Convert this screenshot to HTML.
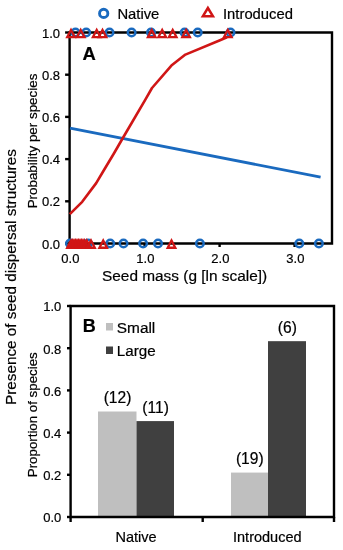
<!DOCTYPE html>
<html><head><meta charset="utf-8"><style>
html,body{margin:0;padding:0;background:#fff;}
svg{display:block;will-change:transform;}
text{font-family:"Liberation Sans",sans-serif;fill:#000;stroke:#000;stroke-width:0.2px;}
</style></head><body>
<svg width="343" height="550" viewBox="0 0 343 550">
<rect width="343" height="550" fill="#fff"/>
<circle cx="103.70" cy="13.40" r="4.15" fill="none" stroke="#1a6abf" stroke-width="2.9"/>
<text x="117.40" y="18.60" font-size="14.8" text-anchor="start" font-weight="normal" >Native</text>
<path fill-rule="evenodd" fill="#d01616" d="M207.90 5.60L215.15 17.40L200.65 17.40ZM207.90 10.38L210.68 14.90L205.12 14.90Z"/>
<text x="223.00" y="18.60" font-size="14.8" text-anchor="start" font-weight="normal" >Introduced</text>
<line x1="65.1" y1="243.50" x2="69.60" y2="243.50" stroke="#000" stroke-width="2.4"/>
<text x="60.00" y="248.50" font-size="13" text-anchor="end" font-weight="normal" >0.0</text>
<line x1="65.1" y1="201.30" x2="69.60" y2="201.30" stroke="#000" stroke-width="2.4"/>
<text x="60.00" y="206.30" font-size="13" text-anchor="end" font-weight="normal" >0.2</text>
<line x1="65.1" y1="159.10" x2="69.60" y2="159.10" stroke="#000" stroke-width="2.4"/>
<text x="60.00" y="164.10" font-size="13" text-anchor="end" font-weight="normal" >0.4</text>
<line x1="65.1" y1="116.90" x2="69.60" y2="116.90" stroke="#000" stroke-width="2.4"/>
<text x="60.00" y="121.90" font-size="13" text-anchor="end" font-weight="normal" >0.6</text>
<line x1="65.1" y1="74.70" x2="69.60" y2="74.70" stroke="#000" stroke-width="2.4"/>
<text x="60.00" y="79.70" font-size="13" text-anchor="end" font-weight="normal" >0.8</text>
<line x1="65.1" y1="32.50" x2="69.60" y2="32.50" stroke="#000" stroke-width="2.4"/>
<text x="60.00" y="37.50" font-size="13" text-anchor="end" font-weight="normal" >1.0</text>
<line x1="144.60" y1="243.50" x2="144.60" y2="247" stroke="#000" stroke-width="2.4"/>
<line x1="219.60" y1="243.50" x2="219.60" y2="247" stroke="#000" stroke-width="2.4"/>
<line x1="294.60" y1="243.50" x2="294.60" y2="247" stroke="#000" stroke-width="2.4"/>
<text x="70.40" y="263.20" font-size="13" text-anchor="middle" font-weight="normal" >0.0</text>
<text x="145.40" y="263.20" font-size="13" text-anchor="middle" font-weight="normal" >1.0</text>
<text x="220.40" y="263.20" font-size="13" text-anchor="middle" font-weight="normal" >2.0</text>
<text x="295.40" y="263.20" font-size="13" text-anchor="middle" font-weight="normal" >3.0</text>
<path d="M69.60 243.50L69.60 32.50L332.00 32.50L332.00 243.50Z" fill="none" stroke="#000" stroke-width="2.4" stroke-linejoin="miter"/>
<line x1="70" y1="128.1" x2="320.6" y2="177.1" stroke="#1a6abf" stroke-width="2.8"/>
<polyline fill="none" stroke="#d01616" stroke-width="2.6" stroke-linejoin="round" points="69.8,214.2 82.2,201.8 96.2,183.1 103.1,171.5 113.6,154 121.4,140.5 145.2,99.8 152,88 171.4,65.6 185.4,54.6 220,40.2 227,37.2"/>
<circle cx="75.50" cy="32.50" r="3.75" fill="none" stroke="#1a6abf" stroke-width="2.5"/>
<circle cx="86.20" cy="32.50" r="3.75" fill="none" stroke="#1a6abf" stroke-width="2.5"/>
<circle cx="109.50" cy="32.50" r="3.75" fill="none" stroke="#1a6abf" stroke-width="2.5"/>
<circle cx="131.60" cy="32.50" r="3.75" fill="none" stroke="#1a6abf" stroke-width="2.5"/>
<circle cx="151.00" cy="32.50" r="3.75" fill="none" stroke="#1a6abf" stroke-width="2.5"/>
<circle cx="184.60" cy="32.50" r="3.75" fill="none" stroke="#1a6abf" stroke-width="2.5"/>
<circle cx="197.70" cy="32.50" r="3.75" fill="none" stroke="#1a6abf" stroke-width="2.5"/>
<circle cx="230.50" cy="32.50" r="3.75" fill="none" stroke="#1a6abf" stroke-width="2.5"/>
<circle cx="70.00" cy="243.50" r="3.75" fill="none" stroke="#1a6abf" stroke-width="2.5"/>
<circle cx="88.00" cy="243.50" r="3.75" fill="none" stroke="#1a6abf" stroke-width="2.5"/>
<circle cx="110.20" cy="243.50" r="3.75" fill="none" stroke="#1a6abf" stroke-width="2.5"/>
<circle cx="123.50" cy="243.50" r="3.75" fill="none" stroke="#1a6abf" stroke-width="2.5"/>
<circle cx="143.10" cy="243.50" r="3.75" fill="none" stroke="#1a6abf" stroke-width="2.5"/>
<circle cx="158.00" cy="243.50" r="3.75" fill="none" stroke="#1a6abf" stroke-width="2.5"/>
<circle cx="199.90" cy="243.50" r="3.75" fill="none" stroke="#1a6abf" stroke-width="2.5"/>
<circle cx="299.30" cy="243.50" r="3.75" fill="none" stroke="#1a6abf" stroke-width="2.5"/>
<circle cx="318.90" cy="243.50" r="3.75" fill="none" stroke="#1a6abf" stroke-width="2.5"/>
<path fill-rule="evenodd" fill="#d01616" d="M71.00 27.40L76.70 38.20L65.30 38.20ZM71.00 32.33L72.89 35.90L69.11 35.90Z"/>
<path fill-rule="evenodd" fill="#d01616" d="M80.70 27.40L86.40 38.20L75.00 38.20ZM80.70 32.33L82.59 35.90L78.81 35.90Z"/>
<path fill-rule="evenodd" fill="#d01616" d="M96.70 27.40L102.40 38.20L91.00 38.20ZM96.70 32.33L98.59 35.90L94.81 35.90Z"/>
<path fill-rule="evenodd" fill="#d01616" d="M102.50 27.40L108.20 38.20L96.80 38.20ZM102.50 32.33L104.39 35.90L100.61 35.90Z"/>
<path fill-rule="evenodd" fill="#d01616" d="M151.70 27.40L157.40 38.20L146.00 38.20ZM151.70 32.33L153.59 35.90L149.81 35.90Z"/>
<path fill-rule="evenodd" fill="#d01616" d="M162.20 27.40L167.90 38.20L156.50 38.20ZM162.20 32.33L164.09 35.90L160.31 35.90Z"/>
<path fill-rule="evenodd" fill="#d01616" d="M172.70 27.40L178.40 38.20L167.00 38.20ZM172.70 32.33L174.59 35.90L170.81 35.90Z"/>
<path fill-rule="evenodd" fill="#d01616" d="M186.10 27.40L191.80 38.20L180.40 38.20ZM186.10 32.33L187.99 35.90L184.21 35.90Z"/>
<path fill-rule="evenodd" fill="#d01616" d="M227.80 27.40L233.50 38.20L222.10 38.20ZM227.80 32.33L229.69 35.90L225.91 35.90Z"/>
<path fill-rule="evenodd" fill="#d01616" d="M71.00 238.10L76.70 248.90L65.30 248.90ZM71.00 243.03L72.89 246.60L69.11 246.60Z"/>
<path fill-rule="evenodd" fill="#d01616" d="M72.50 238.10L78.20 248.90L66.80 248.90ZM72.50 243.03L74.39 246.60L70.61 246.60Z"/>
<path fill-rule="evenodd" fill="#d01616" d="M74.00 238.10L79.70 248.90L68.30 248.90ZM74.00 243.03L75.89 246.60L72.11 246.60Z"/>
<path fill-rule="evenodd" fill="#d01616" d="M75.50 238.10L81.20 248.90L69.80 248.90ZM75.50 243.03L77.39 246.60L73.61 246.60Z"/>
<path fill-rule="evenodd" fill="#d01616" d="M77.00 238.10L82.70 248.90L71.30 248.90ZM77.00 243.03L78.89 246.60L75.11 246.60Z"/>
<path fill-rule="evenodd" fill="#d01616" d="M78.50 238.10L84.20 248.90L72.80 248.90ZM78.50 243.03L80.39 246.60L76.61 246.60Z"/>
<path fill-rule="evenodd" fill="#d01616" d="M80.00 238.10L85.70 248.90L74.30 248.90ZM80.00 243.03L81.89 246.60L78.11 246.60Z"/>
<path fill-rule="evenodd" fill="#d01616" d="M81.50 238.10L87.20 248.90L75.80 248.90ZM81.50 243.03L83.39 246.60L79.61 246.60Z"/>
<path fill-rule="evenodd" fill="#d01616" d="M83.00 238.10L88.70 248.90L77.30 248.90ZM83.00 243.03L84.89 246.60L81.11 246.60Z"/>
<path fill-rule="evenodd" fill="#d01616" d="M84.50 238.10L90.20 248.90L78.80 248.90ZM84.50 243.03L86.39 246.60L82.61 246.60Z"/>
<path fill-rule="evenodd" fill="#d01616" d="M86.80 238.10L92.50 248.90L81.10 248.90ZM86.80 243.03L88.69 246.60L84.91 246.60Z"/>
<path fill-rule="evenodd" fill="#d01616" d="M91.00 238.10L96.70 248.90L85.30 248.90ZM91.00 243.03L92.89 246.60L89.11 246.60Z"/>
<path fill-rule="evenodd" fill="#d01616" d="M103.20 238.10L108.90 248.90L97.50 248.90ZM103.20 243.03L105.09 246.60L101.31 246.60Z"/>
<path fill-rule="evenodd" fill="#d01616" d="M171.50 238.10L177.20 248.90L165.80 248.90ZM171.50 243.03L173.39 246.60L169.61 246.60Z"/>
<text x="82.50" y="60.00" font-size="18.4" text-anchor="start" font-weight="bold" >A</text>
<text x="102.00" y="280.50" font-size="15.4" text-anchor="start" font-weight="normal" >Seed mass (g [ln scale])</text>
<text transform="translate(37.00 141.00) rotate(-90)" font-size="13.4" text-anchor="middle">Probability per species</text>
<text transform="translate(16.20 277.10) rotate(-90)" font-size="15.3" text-anchor="middle">Presence of seed dispersal structures</text>
<rect x="98" y="411.50" width="38.5" height="105.50" fill="#bfbfbf"/>
<text x="117.55" y="403.20" font-size="15.6" text-anchor="middle" font-weight="normal" >(12)</text>
<rect x="136.5" y="421.09" width="37.5" height="95.91" fill="#404040"/>
<text x="155.55" y="412.79" font-size="15.6" text-anchor="middle" font-weight="normal" >(11)</text>
<rect x="231" y="472.58" width="37" height="44.42" fill="#bfbfbf"/>
<text x="249.80" y="464.28" font-size="15.6" text-anchor="middle" font-weight="normal" >(19)</text>
<rect x="268" y="341.17" width="38" height="175.83" fill="#404040"/>
<text x="287.30" y="332.87" font-size="15.6" text-anchor="middle" font-weight="normal" >(6)</text>
<line x1="67" y1="517.00" x2="70.60" y2="517.00" stroke="#000" stroke-width="2.4"/>
<text x="61.30" y="522.30" font-size="13" text-anchor="end" font-weight="normal" >0.0</text>
<line x1="67" y1="474.80" x2="70.60" y2="474.80" stroke="#000" stroke-width="2.4"/>
<text x="61.30" y="480.10" font-size="13" text-anchor="end" font-weight="normal" >0.2</text>
<line x1="67" y1="432.60" x2="70.60" y2="432.60" stroke="#000" stroke-width="2.4"/>
<text x="61.30" y="437.90" font-size="13" text-anchor="end" font-weight="normal" >0.4</text>
<line x1="67" y1="390.40" x2="70.60" y2="390.40" stroke="#000" stroke-width="2.4"/>
<text x="61.30" y="395.70" font-size="13" text-anchor="end" font-weight="normal" >0.6</text>
<line x1="67" y1="348.20" x2="70.60" y2="348.20" stroke="#000" stroke-width="2.4"/>
<text x="61.30" y="353.50" font-size="13" text-anchor="end" font-weight="normal" >0.8</text>
<line x1="67" y1="306.00" x2="70.60" y2="306.00" stroke="#000" stroke-width="2.4"/>
<text x="61.30" y="311.30" font-size="13" text-anchor="end" font-weight="normal" >1.0</text>
<line x1="70.60" y1="517.00" x2="70.60" y2="522" stroke="#000" stroke-width="2.4"/>
<line x1="202.70" y1="517.00" x2="202.70" y2="522" stroke="#000" stroke-width="2.4"/>
<line x1="334.00" y1="517.00" x2="334.00" y2="522" stroke="#000" stroke-width="2.4"/>
<path d="M70.60 517.00L70.60 306.00L334.00 306.00L334.00 517.00Z" fill="none" stroke="#000" stroke-width="2.4"/>
<text x="82.80" y="332.10" font-size="18" text-anchor="start" font-weight="bold" >B</text>
<rect x="106" y="323" width="7" height="7.5" fill="#bfbfbf"/>
<rect x="106" y="346.5" width="7" height="7.5" fill="#404040"/>
<text x="116.80" y="332.70" font-size="15.4" text-anchor="start" font-weight="normal" >Small</text>
<text x="116.80" y="356.40" font-size="15.2" text-anchor="start" font-weight="normal" >Large</text>
<text x="136.00" y="542.10" font-size="14.5" text-anchor="middle" font-weight="normal" >Native</text>
<text x="267.30" y="542.40" font-size="14.5" text-anchor="middle" font-weight="normal" >Introduced</text>
<text transform="translate(36.70 414.75) rotate(-90)" font-size="13.3" text-anchor="middle">Proportion of species</text>
</svg>
</body></html>
